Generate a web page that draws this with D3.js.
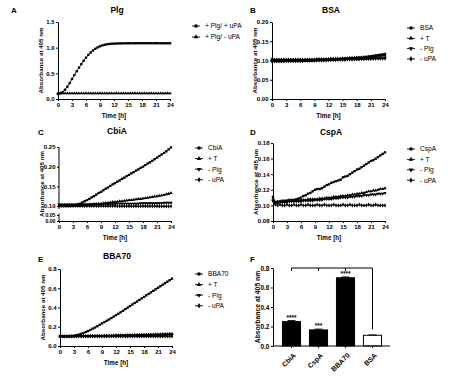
<!DOCTYPE html>
<html><head><meta charset="utf-8">
<script src="https://cdn.jsdelivr.net/npm/d3@7"></script>
<style>body{margin:0;background:#fff}svg{display:block}text{font-family:"Liberation Sans",Arial,sans-serif;fill:#000}</style>
</head><body><svg id="c" width="474" height="376"></svg>
<script>
// ---------- shared ----------
const times = [0,0.5,1,1.5,2,2.5,3,3.5,4,4.5,5,5.5,6,6.5,7,7.5,8,8.5,9,9.5,10,10.5,11,11.5,12,12.5,13,13.5,14,14.5,15,15.5,16,16.5,17,17.5,18,18.5,19,19.5,20,20.5,21,21.5,22,22.5,23,23.5,24];
const timeTicks = [0,3,6,9,12,15,18,21,24];

// ---------- panel A: Plg ----------
const legendA = ["+ Plg/ + uPA", "+ Plg/ - uPA"];
const A_plgUpa = [0.100,0.110,0.135,0.180,0.240,0.310,0.390,0.465,0.540,0.610,
  0.680,0.745,0.805,0.860,0.905,0.945,0.978,1.005,1.027,1.044,
  1.057,1.066,1.072,1.076,1.079,1.081,1.082,1.083,1.084,1.085,
  1.085,1.086,1.086,1.086,1.087,1.087,1.087,1.087,1.087,1.087,
  1.087,1.087,1.087,1.086,1.086,1.086,1.086,1.086,1.086];
const A_plgNoUpa = [0.112,0.111,0.111,0.110,0.110,0.110,0.110,0.110,0.110,0.110,
  0.110,0.110,0.111,0.110,0.110,0.110,0.110,0.110,0.111,0.110,
  0.110,0.110,0.110,0.110,0.110,0.111,0.110,0.110,0.110,0.110,
  0.110,0.110,0.110,0.111,0.110,0.110,0.110,0.110,0.110,0.110,
  0.111,0.110,0.110,0.110,0.110,0.110,0.110,0.111,0.110];
const yTicksA = [0, 0.5, 1.0, 1.5];

// ---------- panel B: BSA ----------
const legendB = ["BSA", "+ T", "- Plg", "- uPA"];
const B_bsa = [0.101,0.100,0.100,0.100,0.099,0.099,0.099,0.099,0.099,0.099,
  0.099,0.099,0.099,0.100,0.100,0.100,0.100,0.100,0.100,0.101,
  0.101,0.101,0.101,0.102,0.102,0.102,0.103,0.103,0.103,0.104,
  0.104,0.104,0.105,0.105,0.106,0.106,0.107,0.107,0.108,0.108,
  0.109,0.110,0.111,0.112,0.113,0.114,0.115,0.116,0.117];
const B_t = [0.104,0.103,0.103,0.103,0.103,0.103,0.103,0.103,0.103,0.103,
  0.103,0.103,0.103,0.103,0.103,0.103,0.103,0.103,0.103,0.104,
  0.104,0.104,0.104,0.104,0.104,0.105,0.105,0.105,0.105,0.105,
  0.106,0.106,0.106,0.107,0.107,0.107,0.108,0.108,0.108,0.109,
  0.109,0.110,0.110,0.111,0.111,0.112,0.112,0.113,0.113];
const B_noPlg = [0.097,0.097,0.097,0.097,0.097,0.097,0.098,0.098,0.098,0.098,
  0.098,0.098,0.098,0.098,0.099,0.099,0.099,0.099,0.099,0.100,
  0.100,0.100,0.100,0.100,0.101,0.101,0.101,0.101,0.102,0.102,
  0.102,0.102,0.103,0.103,0.103,0.103,0.104,0.104,0.104,0.104,
  0.105,0.105,0.105,0.105,0.106,0.106,0.106,0.106,0.107];
const B_noUpa = [0.100,0.100,0.100,0.100,0.100,0.100,0.100,0.100,0.100,0.100,
  0.100,0.100,0.100,0.100,0.100,0.100,0.101,0.101,0.101,0.101,
  0.101,0.101,0.101,0.101,0.101,0.102,0.102,0.102,0.102,0.102,
  0.102,0.102,0.103,0.103,0.103,0.103,0.103,0.103,0.104,0.104,
  0.104,0.104,0.104,0.105,0.105,0.105,0.105,0.105,0.105];
const yTicksB = [0, 0.05, 0.10, 0.15, 0.20];

// ---------- panel C: CbiA ----------
const legendC = ["CbiA", "+ T", "- Plg", "- uPA"];
const C_cbia = [0.100,0.100,0.100,0.100,0.100,0.100,0.101,0.102,0.104,0.106,
  0.109,0.112,0.115,0.118,0.122,0.125,0.129,0.133,0.136,0.140,
  0.144,0.147,0.151,0.155,0.158,0.162,0.165,0.169,0.172,0.176,
  0.179,0.183,0.186,0.190,0.193,0.197,0.200,0.204,0.208,0.211,
  0.215,0.219,0.223,0.227,0.231,0.235,0.239,0.244,0.249];
const C_t = [0.101,0.101,0.101,0.101,0.101,0.101,0.101,0.101,0.102,0.102,
  0.102,0.103,0.103,0.104,0.104,0.105,0.105,0.106,0.106,0.107,
  0.108,0.108,0.109,0.110,0.110,0.111,0.112,0.112,0.113,0.114,
  0.115,0.115,0.116,0.117,0.118,0.118,0.119,0.120,0.121,0.122,
  0.123,0.124,0.125,0.126,0.127,0.128,0.130,0.131,0.133];
const C_noPlg = [0.104,0.104,0.104,0.104,0.104,0.104,0.104,0.104,0.104,0.104,
  0.104,0.104,0.104,0.104,0.104,0.105,0.105,0.105,0.105,0.105,
  0.105,0.105,0.105,0.105,0.105,0.106,0.106,0.106,0.106,0.106,
  0.106,0.106,0.106,0.106,0.106,0.107,0.107,0.107,0.107,0.107,
  0.107,0.107,0.107,0.107,0.107,0.108,0.108,0.108,0.108];
const C_noUpa = [0.100,0.100,0.100,0.100,0.100,0.100,0.100,0.100,0.100,0.100,
  0.100,0.100,0.100,0.100,0.100,0.100,0.100,0.100,0.100,0.100,
  0.100,0.100,0.100,0.100,0.100,0.099,0.099,0.099,0.099,0.099,
  0.099,0.099,0.099,0.099,0.099,0.099,0.099,0.099,0.099,0.099,
  0.099,0.099,0.099,0.098,0.098,0.098,0.098,0.098,0.098];
const yTicksC = [0, 0.05, 0.10, 0.15, 0.20, 0.25];

// ---------- panel D: CspA ----------
const legendD = ["CspA", "+ T", "- Plg", "- uPA"];
const D_cspa = [0.111,0.104,0.105,0.105,0.106,0.106,0.106,0.107,0.107,0.107,
  0.108,0.109,0.110,0.112,0.113,0.115,0.116,0.118,0.120,0.121,
  0.121,0.122,0.124,0.126,0.127,0.129,0.130,0.131,0.132,0.133,
  0.136,0.137,0.138,0.140,0.142,0.144,0.146,0.147,0.149,0.151,
  0.153,0.155,0.157,0.158,0.160,0.162,0.164,0.166,0.168];
const D_t = [0.108,0.104,0.104,0.105,0.105,0.105,0.106,0.106,0.106,0.106,
  0.107,0.107,0.107,0.107,0.107,0.108,0.108,0.108,0.108,0.108,
  0.109,0.109,0.109,0.110,0.110,0.110,0.111,0.111,0.111,0.112,
  0.112,0.112,0.113,0.113,0.114,0.114,0.115,0.115,0.116,0.116,
  0.117,0.118,0.118,0.119,0.119,0.120,0.121,0.121,0.122];
const D_noPlg = [0.106,0.103,0.103,0.104,0.104,0.104,0.104,0.105,0.105,0.105,
  0.105,0.105,0.105,0.106,0.106,0.106,0.106,0.106,0.107,0.107,
  0.107,0.107,0.108,0.108,0.108,0.108,0.109,0.109,0.109,0.110,
  0.110,0.110,0.110,0.111,0.111,0.111,0.112,0.112,0.112,0.113,
  0.113,0.113,0.114,0.114,0.114,0.115,0.115,0.115,0.116];
const D_noUpa = [0.106,0.101,0.100,0.101,0.100,0.100,0.101,0.100,0.100,0.101,
  0.100,0.100,0.101,0.100,0.100,0.101,0.100,0.100,0.100,0.101,
  0.100,0.100,0.101,0.100,0.100,0.100,0.101,0.100,0.100,0.100,
  0.101,0.100,0.100,0.101,0.100,0.100,0.100,0.101,0.100,0.100,
  0.100,0.101,0.100,0.100,0.101,0.100,0.100,0.100,0.100];
const yTicksD = [0.08, 0.10, 0.12, 0.14, 0.16, 0.18];

// ---------- panel E: BBA70 ----------
const legendE = ["BBA70", "+ T", "- Plg", "- uPA"];
const E_bba70 = [0.100,0.100,0.100,0.101,0.102,0.104,0.107,0.112,0.118,0.126,
  0.135,0.145,0.155,0.167,0.180,0.192,0.205,0.220,0.235,0.248,
  0.262,0.276,0.290,0.305,0.320,0.335,0.350,0.366,0.383,0.399,
  0.415,0.431,0.447,0.462,0.478,0.494,0.510,0.526,0.542,0.557,
  0.573,0.589,0.605,0.621,0.637,0.652,0.668,0.684,0.700];
const E_t = [0.100,0.100,0.100,0.101,0.101,0.102,0.102,0.103,0.103,0.104,
  0.104,0.105,0.105,0.106,0.106,0.107,0.107,0.108,0.108,0.109,
  0.109,0.110,0.110,0.111,0.111,0.112,0.112,0.113,0.113,0.114,
  0.115,0.115,0.116,0.117,0.117,0.118,0.119,0.119,0.120,0.121,
  0.121,0.122,0.123,0.123,0.124,0.125,0.126,0.127,0.128];
const E_noPlg = [0.100,0.100,0.100,0.100,0.100,0.101,0.101,0.101,0.101,0.102,
  0.102,0.102,0.102,0.103,0.103,0.103,0.103,0.104,0.104,0.104,
  0.105,0.105,0.105,0.105,0.106,0.106,0.106,0.107,0.107,0.107,
  0.108,0.108,0.108,0.109,0.109,0.109,0.110,0.110,0.110,0.111,
  0.111,0.111,0.112,0.112,0.113,0.113,0.113,0.114,0.114];
const E_noUpa = [0.100,0.100,0.100,0.100,0.100,0.100,0.100,0.100,0.100,0.100,
  0.100,0.100,0.100,0.100,0.100,0.100,0.100,0.100,0.100,0.100,
  0.100,0.100,0.100,0.100,0.100,0.100,0.100,0.100,0.100,0.100,
  0.099,0.099,0.099,0.099,0.099,0.099,0.099,0.099,0.099,0.099,
  0.099,0.099,0.099,0.099,0.099,0.099,0.099,0.099,0.099];
const yTicksE = [0, 0.2, 0.4, 0.6, 0.8];

// ---------- panel F: bars ----------
const barCats = ["CbiA", "CspA", "BBA70", "BSA"];
const barValues = [0.250, 0.165, 0.700, 0.110];
const barErrors = [0.010, 0.008, 0.008, 0.003];
const barStars = ["****", "***", "****", ""];
const bracketBSAEnd = 0.17;
const yTicksF = [0, 0.2, 0.4, 0.6, 0.8];

// ================= drawing =================
const svg = d3.select("#c");
const FONT = '"Liberation Sans", Arial, sans-serif';
const symbols = [
  {type: d3.symbolSquare, rot: 0, size: 5.5},
  {type: d3.symbolTriangle, rot: 0, size: 5},
  {type: d3.symbolTriangle, rot: 180, size: 5},
  {type: d3.symbolDiamond, rot: 0, size: 5}
];

function styleAxis(g, fs) {
  g.attr("font-family", FONT).attr("font-size", fs || 6).attr("font-weight", "bold");
  g.selectAll("path.domain").attr("stroke", "#000").attr("stroke-width", 1);
  g.selectAll(".tick line").attr("stroke", "#000").attr("stroke-width", 1);
  g.selectAll(".tick text").attr("fill", "#000");
}

function drawLinePanel(p) {
  const g = svg.append("g");
  const x = d3.scaleLinear().domain([0, 24]).range([p.x0, p.x1]);
  const y = d3.scaleLinear().domain(p.yDomain).range(p.yRange);
  const xAxisY = p.yRange[0];

  // series
  p.series.forEach((vals, i) => {
    const pts = times.map((t, k) => [x(t), y(vals[k])]);
    g.append("path").attr("d", d3.line()(pts)).attr("fill", "none")
      .attr("stroke", "#000").attr("stroke-width", 0.9);
    const s = symbols[i];
    const sym = d3.symbol().type(s.type).size(s.size)();
    g.append("g").selectAll("path").data(pts).join("path")
      .attr("d", sym).attr("fill", "#000")
      .attr("transform", d => `translate(${d[0]},${d[1]}) rotate(${s.rot})`);
  });

  // x axis
  const gx = g.append("g").attr("transform", `translate(0,${xAxisY})`)
    .call(d3.axisBottom(x).tickValues(timeTicks).tickSize(2).tickSizeOuter(0).tickPadding(1.5));
  styleAxis(gx);

  // y axis
  const gy = g.append("g").attr("transform", `translate(${p.x0},0)`)
    .call(d3.axisLeft(y).tickValues(p.yTicks).tickSize(2).tickSizeOuter(0).tickPadding(1.5)
      .tickFormat(d3.format(p.fmt)));
  styleAxis(gy);
  if (p.broken) {
    gy.select("path.domain").remove();
    gy.append("line").attr("x1", 0).attr("x2", 0).attr("y1", y(p.yDomain[p.yDomain.length-1])).attr("y2", y(0.10) + 3).attr("stroke", "#000");
    gy.append("line").attr("x1", 0).attr("x2", 0).attr("y1", y(0.05) - 1.5).attr("y2", y(0)).attr("stroke", "#000");
    gy.selectAll(".tick").filter(d => d < 0.1).select("text").attr("font-size", 5.2);
  }

  // labels
  g.append("text").attr("x", (p.x0 + p.x1) / 2).attr("y", xAxisY + 19)
    .attr("text-anchor", "middle").attr("font-size", 6.3).attr("font-weight", "bold")
    .attr("font-family", FONT).attr("fill", "#000").text("Time [h]");
  const yMid = (p.yRange[0] + p.yRange[p.yRange.length-1]) / 2;
  g.append("text").attr("transform", `translate(${p.x0 - 15},${yMid}) rotate(-90)`)
    .attr("text-anchor", "middle").attr("font-size", 6.2).attr("font-weight", "bold")
    .attr("font-family", FONT).attr("fill", "#000").text("Absorbance at 405 nm");
  g.append("text").attr("x", p.titleX).attr("y", p.titleY).attr("text-anchor", "middle")
    .attr("font-size", 8.5).attr("font-weight", "bold").attr("font-family", FONT).attr("fill", "#000").text(p.title);
  g.append("text").attr("x", p.letterX).attr("y", p.letterY)
    .attr("font-size", 8).attr("font-weight", "bold").attr("font-family", FONT).attr("fill", "#000").text(p.letter);

  // legend
  p.legend.forEach((name, i) => {
    const ly = p.legY + i * p.legStep;
    g.append("line").attr("x1", p.legX).attr("x2", p.legX + 8).attr("y1", ly).attr("y2", ly)
      .attr("stroke", "#000").attr("stroke-width", 0.9);
    const s = symbols[i];
    g.append("path").attr("d", d3.symbol().type(s.type).size(9)())
      .attr("transform", `translate(${p.legX + 4},${ly}) rotate(${s.rot})`).attr("fill", "#000");
    g.append("text").attr("x", p.legX + 13).attr("y", ly + 2.3)
      .attr("font-size", 6.6).attr("font-family", FONT).attr("fill", "#000").text(name);
  });
}

drawLinePanel({x0: 58, x1: 170, yDomain: [0, 1.5], yRange: [99, 22], yTicks: yTicksA, fmt: ".1f",
  series: [A_plgUpa, A_plgNoUpa], legend: legendA, title: "Plg", titleX: 117, titleY: 13,
  letter: "A", letterX: 11, letterY: 13, legX: 192, legY: 26, legStep: 11});
drawLinePanel({x0: 272, x1: 385, yDomain: [0, 0.20], yRange: [99, 22], yTicks: yTicksB, fmt: ".2f",
  series: [B_bsa, B_t, B_noPlg, B_noUpa], legend: legendB, title: "BSA", titleX: 331, titleY: 13,
  letter: "B", letterX: 250, letterY: 13, legX: 407, legY: 28, legStep: 10.3});
drawLinePanel({x0: 59, x1: 171, yDomain: [0, 0.05, 0.10, 0.25], yRange: [221, 215, 206, 147], yTicks: yTicksC, fmt: ".2f",
  broken: true,
  series: [C_cbia, C_t, C_noPlg, C_noUpa], legend: legendC, title: "CbiA", titleX: 117, titleY: 134,
  letter: "C", letterX: 38, letterY: 135, legX: 195, legY: 148, legStep: 10.6});
drawLinePanel({x0: 273, x1: 385, yDomain: [0.08, 0.18], yRange: [221, 143], yTicks: yTicksD, fmt: ".2f",
  series: [D_cspa, D_t, D_noPlg, D_noUpa], legend: legendD, title: "CspA", titleX: 331, titleY: 135,
  letter: "D", letterX: 250, letterY: 135, legX: 407, legY: 149, legStep: 10.4});
drawLinePanel({x0: 60, x1: 172, yDomain: [0, 0.8], yRange: [346, 269], yTicks: yTicksE, fmt: ".1f",
  series: [E_bba70, E_t, E_noPlg, E_noUpa], legend: legendE, title: "BBA70", titleX: 117, titleY: 259,
  letter: "E", letterX: 38, letterY: 262, legX: 195, legY: 274, legStep: 10.6});

// ---------- panel F ----------
(function () {
  const g = svg.append("g");
  const xb = d3.scaleBand().domain(barCats).range([278, 386]).paddingInner(0.33).paddingOuter(0.165);
  const y = d3.scaleLinear().domain([0, 0.8]).range([346, 268]);
  const cx = c => xb(c) + xb.bandwidth() / 2;

  barCats.forEach((c, i) => {
    g.append("rect").attr("x", xb(c)).attr("width", xb.bandwidth())
      .attr("y", y(barValues[i])).attr("height", y(0) - y(barValues[i]))
      .attr("fill", c === "BSA" ? "#fff" : "#000").attr("stroke", "#000").attr("stroke-width", 1);
    const top = y(barValues[i] + barErrors[i]);
    g.append("line").attr("x1", cx(c)).attr("x2", cx(c)).attr("y1", y(barValues[i])).attr("y2", top).attr("stroke", "#000");
    g.append("line").attr("x1", cx(c) - 4).attr("x2", cx(c) + 4).attr("y1", top).attr("y2", top).attr("stroke", "#000");
    if (barStars[i]) {
      g.append("text").attr("x", cx(c)).attr("y", top - 1).attr("text-anchor", "middle")
        .attr("font-size", 6.5).attr("font-weight", "bold").attr("font-family", FONT).attr("fill", "#000").text(barStars[i]);
    }
  });

  // bracket
  const by = y(0.8);
  g.append("path").attr("d", `M${cx("CbiA")},${by + 3}V${by}H${cx("BSA")}V${y(bracketBSAEnd)}`)
    .attr("fill", "none").attr("stroke", "#000").attr("stroke-width", 1);
  ["CspA", "BBA70"].forEach(c => {
    g.append("line").attr("x1", cx(c)).attr("x2", cx(c)).attr("y1", by).attr("y2", by + 3).attr("stroke", "#000");
  });

  // axes
  const gx = g.append("g").attr("transform", "translate(0,346)")
    .call(d3.axisBottom(xb).tickSize(2).tickSizeOuter(0).tickPadding(2));
  gx.select("path.domain").remove();
  gx.append("line").attr("x1", 273).attr("x2", 390).attr("y1", 0).attr("y2", 0).attr("stroke", "#000");
  styleAxis(gx, 7);
  gx.selectAll(".tick text").attr("text-anchor", "end").attr("dy", 0)
    .attr("transform", "translate(2,7) rotate(-45)");
  const gy = g.append("g").attr("transform", "translate(273,0)")
    .call(d3.axisLeft(y).tickValues(yTicksF).tickSize(2).tickSizeOuter(0).tickPadding(1.5).tickFormat(d3.format(".1f")));
  styleAxis(gy, 6.5);
  g.append("text").attr("transform", `translate(260,307) rotate(-90)`).attr("text-anchor", "middle")
    .attr("font-size", 6.8).attr("font-weight", "bold").attr("font-family", FONT).attr("fill", "#000").text("Absorbance at 405 nm");
  g.append("text").attr("x", 250).attr("y", 262).attr("font-size", 8).attr("font-weight", "bold")
    .attr("font-family", FONT).attr("fill", "#000").text("F");
})();
</script>
</body></html>
